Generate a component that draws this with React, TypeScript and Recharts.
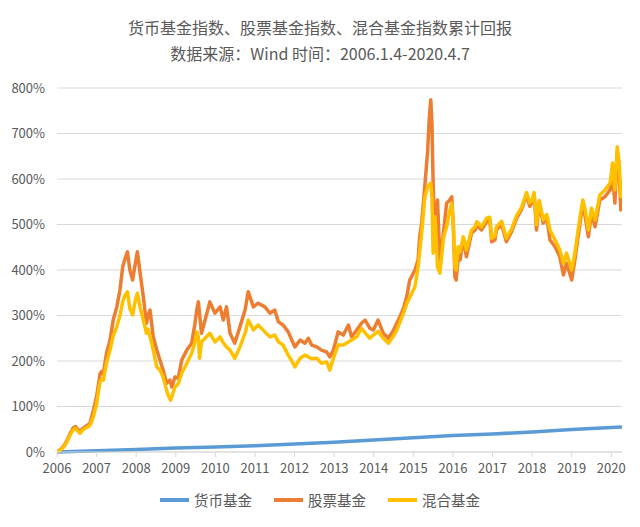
import { LineChart, Line, XAxis, YAxis, CartesianGrid } from "recharts";

// cumulative return (%) sampled over time, [year, value]
const moneyFund: [number, number][] = [
  [2006.0, 0], [2007.0, 2.5], [2008.0, 5.5], [2009.0, 9], [2010.0, 11],
  [2011.0, 13.5], [2012.0, 17.5], [2013.0, 21.5], [2014.0, 26.5], [2015.0, 31.5],
  [2016.0, 36], [2017.0, 39.5], [2018.0, 44], [2019.0, 49.5], [2020.0, 54], [2020.27, 55],
];

const stockFund: [number, number][] = [
  [2006.0, 0], [2006.08, 5], [2006.16, 12], [2006.25, 25], [2006.33, 41], [2006.41, 53],
  [2006.47, 56], [2006.52, 50], [2006.58, 45], [2006.65, 52], [2006.75, 58], [2006.83, 63],
  [2006.92, 92], [2007.0, 122], [2007.05, 150], [2007.09, 173], [2007.13, 177], [2007.17, 172],
  [2007.25, 217], [2007.34, 246], [2007.42, 290], [2007.51, 319], [2007.59, 356], [2007.66, 407],
  [2007.72, 425], [2007.78, 440], [2007.84, 400], [2007.91, 378], [2007.97, 410], [2008.03, 440],
  [2008.1, 393], [2008.18, 341], [2008.26, 283], [2008.3, 300], [2008.35, 312], [2008.43, 253],
  [2008.52, 224], [2008.6, 202], [2008.68, 180], [2008.77, 151], [2008.85, 158], [2008.9, 143],
  [2008.98, 165], [2009.06, 162], [2009.15, 202], [2009.28, 224], [2009.4, 239], [2009.48, 280],
  [2009.53, 312], [2009.57, 330], [2009.65, 261], [2009.74, 290], [2009.86, 330], [2009.99, 305],
  [2010.12, 319], [2010.2, 290], [2010.28, 319], [2010.37, 261], [2010.49, 239], [2010.62, 275],
  [2010.75, 312], [2010.83, 352], [2010.96, 319], [2011.08, 327], [2011.25, 319], [2011.38, 305],
  [2011.5, 312], [2011.59, 286], [2011.71, 279], [2011.84, 264], [2011.93, 246], [2012.01, 231],
  [2012.14, 246], [2012.26, 239], [2012.35, 250], [2012.43, 235], [2012.56, 231], [2012.68, 224],
  [2012.81, 220], [2012.89, 209], [2012.98, 224], [2013.1, 264], [2013.23, 257], [2013.36, 279],
  [2013.44, 253], [2013.57, 268], [2013.69, 283], [2013.78, 290], [2013.9, 272], [2013.99, 268],
  [2014.11, 290], [2014.24, 261], [2014.37, 250], [2014.5, 268], [2014.58, 283], [2014.66, 297],
  [2014.75, 316], [2014.83, 340], [2014.91, 378], [2015.04, 400], [2015.12, 422], [2015.16, 473],
  [2015.21, 503], [2015.29, 585], [2015.36, 660], [2015.4, 730], [2015.44, 774], [2015.47, 720],
  [2015.5, 590], [2015.55, 451], [2015.61, 554], [2015.67, 422], [2015.76, 481], [2015.84, 547],
  [2015.92, 554], [2015.97, 561], [2016.01, 495], [2016.05, 385], [2016.08, 378], [2016.13, 422],
  [2016.18, 422], [2016.26, 466], [2016.3, 451], [2016.34, 429], [2016.47, 481], [2016.56, 488],
  [2016.6, 499], [2016.72, 488], [2016.85, 506], [2016.93, 510], [2016.98, 462], [2017.06, 466],
  [2017.1, 488], [2017.23, 500], [2017.35, 462], [2017.48, 484], [2017.61, 514], [2017.73, 532],
  [2017.86, 565], [2017.94, 540], [2017.99, 547], [2018.05, 567], [2018.11, 488], [2018.18, 547],
  [2018.28, 503], [2018.37, 517], [2018.45, 466], [2018.58, 451], [2018.7, 429], [2018.79, 389],
  [2018.87, 415], [2019.0, 378], [2019.08, 422], [2019.21, 503], [2019.28, 547], [2019.34, 517],
  [2019.42, 473], [2019.5, 525], [2019.59, 495], [2019.71, 554], [2019.84, 561], [2019.97, 576],
  [2020.03, 612], [2020.09, 547], [2020.15, 660], [2020.2, 612], [2020.24, 532], [2020.27, 558],
];

const hybridFund: [number, number][] = [
  [2006.0, 0], [2006.08, 4], [2006.16, 10], [2006.25, 22], [2006.33, 38], [2006.41, 49],
  [2006.47, 52], [2006.52, 46], [2006.58, 41], [2006.65, 48], [2006.75, 54], [2006.83, 58],
  [2006.92, 78], [2007.0, 105], [2007.05, 135], [2007.09, 155], [2007.13, 160], [2007.17, 158],
  [2007.25, 195], [2007.34, 224], [2007.42, 255], [2007.51, 275], [2007.59, 300], [2007.66, 330],
  [2007.72, 345], [2007.78, 352], [2007.84, 315], [2007.91, 301], [2007.97, 330], [2008.03, 349],
  [2008.1, 318], [2008.18, 290], [2008.26, 261], [2008.3, 270], [2008.35, 254], [2008.43, 224],
  [2008.52, 187], [2008.6, 180], [2008.68, 165], [2008.77, 135], [2008.82, 122], [2008.87, 114],
  [2008.93, 130], [2008.98, 143], [2009.06, 150], [2009.15, 173], [2009.28, 195], [2009.4, 217],
  [2009.48, 240], [2009.53, 264], [2009.57, 253], [2009.6, 206], [2009.65, 242], [2009.74, 250],
  [2009.86, 261], [2009.99, 242], [2010.12, 253], [2010.2, 240], [2010.28, 231], [2010.37, 224],
  [2010.49, 206], [2010.62, 231], [2010.75, 261], [2010.83, 290], [2010.96, 268], [2011.08, 279],
  [2011.25, 264], [2011.38, 253], [2011.5, 257], [2011.59, 242], [2011.71, 235], [2011.84, 213],
  [2011.93, 200], [2012.01, 187], [2012.14, 206], [2012.26, 213], [2012.35, 209], [2012.43, 205],
  [2012.56, 206], [2012.68, 195], [2012.81, 198], [2012.89, 180], [2012.98, 206], [2013.1, 235],
  [2013.23, 235], [2013.36, 242], [2013.44, 246], [2013.57, 253], [2013.69, 272], [2013.78, 262],
  [2013.9, 250], [2013.99, 257], [2014.11, 265], [2014.24, 250], [2014.37, 239], [2014.5, 255],
  [2014.58, 268], [2014.66, 285], [2014.75, 305], [2014.83, 325], [2014.91, 340], [2015.04, 363],
  [2015.12, 407], [2015.21, 481], [2015.29, 560], [2015.36, 583], [2015.44, 591], [2015.47, 560],
  [2015.5, 437], [2015.55, 517], [2015.61, 407], [2015.67, 393], [2015.76, 470], [2015.84, 495],
  [2015.92, 530], [2015.97, 547], [2016.01, 500], [2016.05, 407], [2016.08, 400], [2016.13, 451],
  [2016.18, 440], [2016.26, 473], [2016.3, 460], [2016.34, 444], [2016.47, 488], [2016.56, 495],
  [2016.6, 506], [2016.72, 495], [2016.85, 514], [2016.93, 516], [2016.98, 470], [2017.06, 474],
  [2017.1, 495], [2017.23, 507], [2017.35, 470], [2017.48, 490], [2017.61, 520], [2017.73, 537],
  [2017.86, 570], [2017.94, 548], [2017.99, 552], [2018.05, 570], [2018.11, 500], [2018.18, 553],
  [2018.28, 510], [2018.37, 522], [2018.45, 488], [2018.58, 466], [2018.7, 444], [2018.79, 415],
  [2018.87, 437], [2019.0, 400], [2019.08, 437], [2019.21, 517], [2019.28, 554], [2019.34, 532],
  [2019.42, 488], [2019.5, 536], [2019.59, 510], [2019.71, 565], [2019.84, 576], [2019.97, 591],
  [2020.03, 635], [2020.09, 576], [2020.15, 671], [2020.2, 635], [2020.24, 561], [2020.27, 598],
];

const yearTicks = [2006, 2007, 2008, 2009, 2010, 2011, 2012, 2013, 2014, 2015, 2016, 2017, 2018, 2019, 2020];
const percentTicks = [0, 100, 200, 300, 400, 500, 600, 700, 800];

const series = [
  { name: "货币基金", color: "#5b9bd5", points: moneyFund },
  { name: "股票基金", color: "#ed7d31", points: stockFund },
  { name: "混合基金", color: "#ffc000", points: hybridFund },
];

const toRows = (points: [number, number][]) => points.map(([t, v]) => ({ t, v }));

const FONT = "'Noto Sans CJK SC', 'Noto Sans', sans-serif";
const TEXT = "#595959";
const GRID = "#d9d9d9";

export default function App() {
  return (
    <div
      style={{
        position: "absolute",
        left: 0,
        top: 0,
        width: 640,
        height: 527,
        background: "#fff",
        fontFamily: FONT,
        color: TEXT,
      }}
    >
      <div style={{ position: "absolute", top: 15, width: 640, textAlign: "center", fontSize: 16, lineHeight: "24px" }}>
        货币基金指数、股票基金指数、混合基金指数累计回报
      </div>
      <div style={{ position: "absolute", top: 41, width: 640, textAlign: "center", fontSize: 16, lineHeight: "24px" }}>
        数据来源：Wind 时间：2006.1.4-2020.4.7
      </div>

      <LineChart width={640} height={527} margin={{ top: 88, right: 18, bottom: 45, left: 0 }}>
        <CartesianGrid vertical={false} stroke={GRID} strokeWidth={1} />
        <XAxis
          dataKey="t"
          type="number"
          domain={[2006, 2020.27]}
          ticks={yearTicks}
          allowDataOverflow
          height={30}
          stroke={GRID}
          tickSize={5}
          tickMargin={7}
          tick={{ fill: TEXT, fontSize: 13, fontFamily: FONT }}
        />
        <YAxis
          type="number"
          domain={[0, 800]}
          ticks={percentTicks}
          width={57}
          axisLine={false}
          tickLine={false}
          tickMargin={6}
          tickFormatter={(v) => `${v}%`}
          tick={{ fill: TEXT, fontSize: 13, fontFamily: FONT }}
        />
        {series.map((s) => (
          <Line
            key={s.name}
            data={toRows(s.points)}
            dataKey="v"
            name={s.name}
            type="linear"
            stroke={s.color}
            strokeWidth={3.5}
            strokeLinejoin="round"
            dot={false}
            isAnimationActive={false}
          />
        ))}
      </LineChart>

      <div
        style={{
          position: "absolute",
          top: 489,
          width: 640,
          display: "flex",
          justifyContent: "center",
          gap: 22,
          fontSize: 14.5,
          lineHeight: "22px",
        }}
      >
        {series.map((s) => (
          <div key={s.name} style={{ display: "flex", alignItems: "center", gap: 5 }}>
            <span style={{ display: "inline-block", width: 29, height: 4, background: s.color }} />
            <span>{s.name}</span>
          </div>
        ))}
      </div>
    </div>
  );
}
